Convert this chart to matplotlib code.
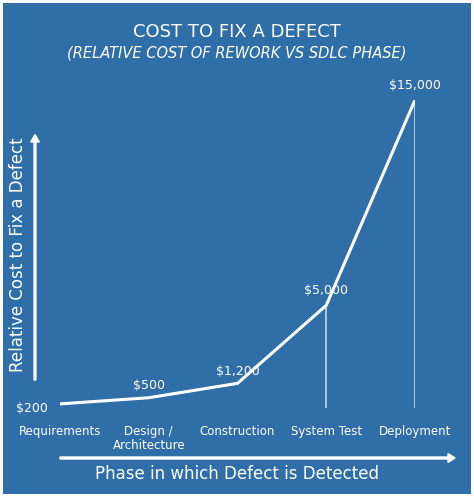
import matplotlib.pyplot as plt

phases = ["Requirements", "Design /\nArchitecture", "Construction", "System Test", "Deployment"]
costs = [200, 500, 1200, 5000, 15000]
cost_labels = ["$200", "$500", "$1,200", "$5,000", "$15,000"]

bg = "#2f6ea6"
W, H = 474, 497
fig = plt.figure(figsize=(W / 100, H / 100), dpi=100, facecolor="white")

# blue panel
panel = fig.add_axes([3 / W, 3 / H, 468 / W, 491 / H])
panel.set_facecolor(bg)
panel.set_xticks([]); panel.set_yticks([])
for s in panel.spines.values():
    s.set_visible(False)

# data axes: x 0..4 -> px 60..415, y 0 -> px 408 from top, 15000 -> px 100
ax = fig.add_axes([60 / W, (H - 408) / H, 355 / W, 308 / H])
ax.set_xlim(0, 4)
ax.set_ylim(0, 15000)
ax.axis("off")
ax.patch.set_alpha(0)

x = list(range(len(phases)))
for i in (3, 4):
    ax.plot([i, i], [0, costs[i]], color="#c8d6e5", lw=1.2)
ax.plot(x, costs, color="white", lw=2.2, solid_capstyle="round")

offsets = [(-20, -8), (0, 4), (0, 4), (0, 6), (0, 6)]
for i, (c, lab) in enumerate(zip(costs, cost_labels)):
    dx, dy = offsets[i]
    ax.annotate(lab, (i, c), xytext=(dx, dy), textcoords="offset points",
                ha="center", va="bottom", color="white", fontsize=9)
    ax.annotate(phases[i], (i, 0), xytext=(0, -12), textcoords="offset points",
                ha="center", va="top", color="white", fontsize=8.5, linespacing=1.1)

fig.text(0.5, 1 - 32 / H, "COST TO FIX A DEFECT", ha="center", va="center",
         color="white", fontsize=13)
fig.text(0.5, 1 - 53 / H, "(RELATIVE COST OF REWORK VS SDLC PHASE)", ha="center",
         va="center", color="white", fontsize=10.5, style="italic")

# axis arrows
fig.patches.append(plt.matplotlib.patches.FancyArrow(
    35 / W, 1 - 380 / H, 0, 238 / H, width=0.004, head_width=0.018,
    head_length=0.015, color="white", transform=fig.transFigure))
fig.patches.append(plt.matplotlib.patches.FancyArrow(
    60 / W, 1 - 458 / H, 388 / W, 0, width=0.004, head_width=0.018,
    head_length=0.015, color="white", transform=fig.transFigure))
fig.text(18 / W, 1 - 255 / H, "Relative Cost to Fix a Defect", rotation=90,
         ha="center", va="center", color="white", fontsize=12)
fig.text(0.5, 1 - 474 / H, "Phase in which Defect is Detected", ha="center",
         va="center", color="white", fontsize=12)

fig.savefig("out.png", dpi=100, facecolor="white")
